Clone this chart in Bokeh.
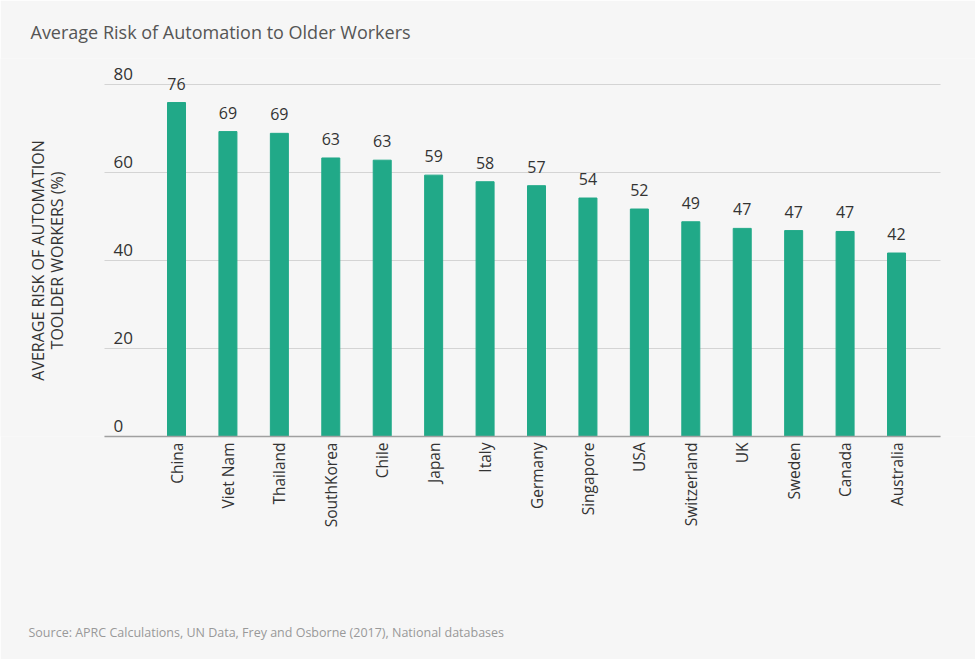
import math
from bokeh.plotting import figure
from bokeh.models import ColumnDataSource, FixedTicker, Range1d, Title, LinearAxis
from bokeh.core.properties import value
from bokeh.embed import file_html
from bokeh.resources import INLINE

countries = ["China", "Viet Nam", "Thailand", "SouthKorea", "Chile", "Japan", "Italy",
             "Germany", "Singapore", "USA", "Switzerland", "UK", "Sweden", "Canada", "Australia"]
risk = [75.9, 69.3, 68.9, 63.3, 62.8, 59.4, 57.9, 57.0, 54.2, 51.7, 48.8, 47.3, 46.8, 46.6, 41.7]
y_ticks = [0, 20, 40, 60, 80]
y_title_lines = ["AVERAGE RISK OF AUTOMATION", "TOOLDER WORKERS (%)"]
title_text = "Average Risk of Automation to Older Workers"
source_text = "Source: APRC Calculations, UN Data, Frey and Osborne (2017), National databases"

FONT = "Open Sans"
BG = "#f6f6f6"
TXT = "#333333"

# layout (pixels)
W, H = 975, 659
PLOT_L, PLOT_R = 104, 940          # extent of the gridlines / axis line
TOP, BOTTOM = 58, 436              # frame top, zero line
PX = 51.43                          # pixels per category
PY = 4.4                            # pixels per percentage point
XL, XR = -1.40, -1.40 + (PLOT_R - PLOT_L) / PX

xs = list(range(len(countries)))
src = ColumnDataSource(dict(x=xs, top=risk, label=["%.0f" % v for v in risk]))
grid_src = ColumnDataSource(dict(x0=[XL] * len(y_ticks), x1=[XR] * len(y_ticks), y=y_ticks,
                                 tx=[XL + 9 / PX] * len(y_ticks),
                                 label=[str(t) for t in y_ticks]))

p = figure(width=W, height=H, output_backend="svg", toolbar_location=None,
           x_range=Range1d(XL - PLOT_L / PX, XR + (W - PLOT_R) / PX),
           y_range=Range1d(0, (BOTTOM - TOP) / PY),
           background_fill_color=BG, border_fill_color=BG,
           min_border_left=0, min_border_right=0, min_border_top=TOP,
           min_border_bottom=H - BOTTOM)
p.outline_line_color = None
p.grid.visible = False
p.yaxis.visible = False

# gridlines and y tick labels
p.segment(x0="x0", x1="x1", y0="y", y1="y", source=grid_src,
          line_color="#d4d4d4", line_width=1.2)
p.text(x="tx", y="y", text="label", source=grid_src, text_align="left",
       text_baseline="bottom", y_offset=-5, text_font=value(FONT),
       text_font_size="17px", text_color=TXT)

# bars and value labels
p.vbar(x="x", top="top", width=0.35, bottom=0, source=src, color="#21a988")
p.text(x="x", y="top", text="label", source=src, text_align="center",
       text_baseline="bottom", y_offset=-13, text_font=value(FONT),
       text_font_size="16px", text_color=TXT)

# y axis title (two centred, rotated lines)
p.text(x=[XL - (PLOT_L - 37) / PX, XL - (PLOT_L - 56) / PX],
       y=[(BOTTOM - 260) / PY] * 2, text=y_title_lines, angle=math.pi / 2,
       text_align="center", text_baseline="middle", text_font=value(FONT),
       text_font_size="16px", text_color=TXT)

# x axis
xa = p.xaxis[0]
xa.ticker = FixedTicker(ticks=xs)
xa.bounds = (XL, XR)
xa.major_label_overrides = {i: c for i, c in enumerate(countries)}
xa.major_label_orientation = math.pi / 2
xa.major_tick_line_color = None
xa.major_tick_out = 0
xa.major_tick_in = 0
xa.minor_tick_line_color = None
xa.axis_line_color = "#a0a0a0"
xa.axis_line_width = 1.5
xa.major_label_standoff = 6
xa.major_label_text_font = FONT
xa.major_label_text_font_size = "15.5px"
xa.major_label_text_color = TXT

# blank spacer between the axis labels and the source line
# (one background-coloured tick, no labels, no axis line)
spacer = LinearAxis(ticker=FixedTicker(ticks=[XL], minor_ticks=[]), axis_line_color=None,
                    major_tick_line_color=BG, minor_tick_line_color=None,
                    major_tick_out=86, major_tick_in=0, minor_tick_out=0,
                    major_label_text_color=None)
p.add_layout(spacer, "below")

p.add_layout(Title(text=source_text, text_font=FONT, text_font_size="12.5px",
                   text_font_style="normal", text_color="#999999",
                   offset=28, standoff=10), "below")

p.title.text = title_text
p.title.text_font = FONT
p.title.text_font_size = "18px"
p.title.text_font_style = "normal"
p.title.text_color = "#555555"
p.title.offset = 30
p.title.standoff = 30

html = file_html(p, INLINE)
html = html.replace("<body>", '<body style="background:%s">' % BG, 1)
open("out.html", "w").write(html)
